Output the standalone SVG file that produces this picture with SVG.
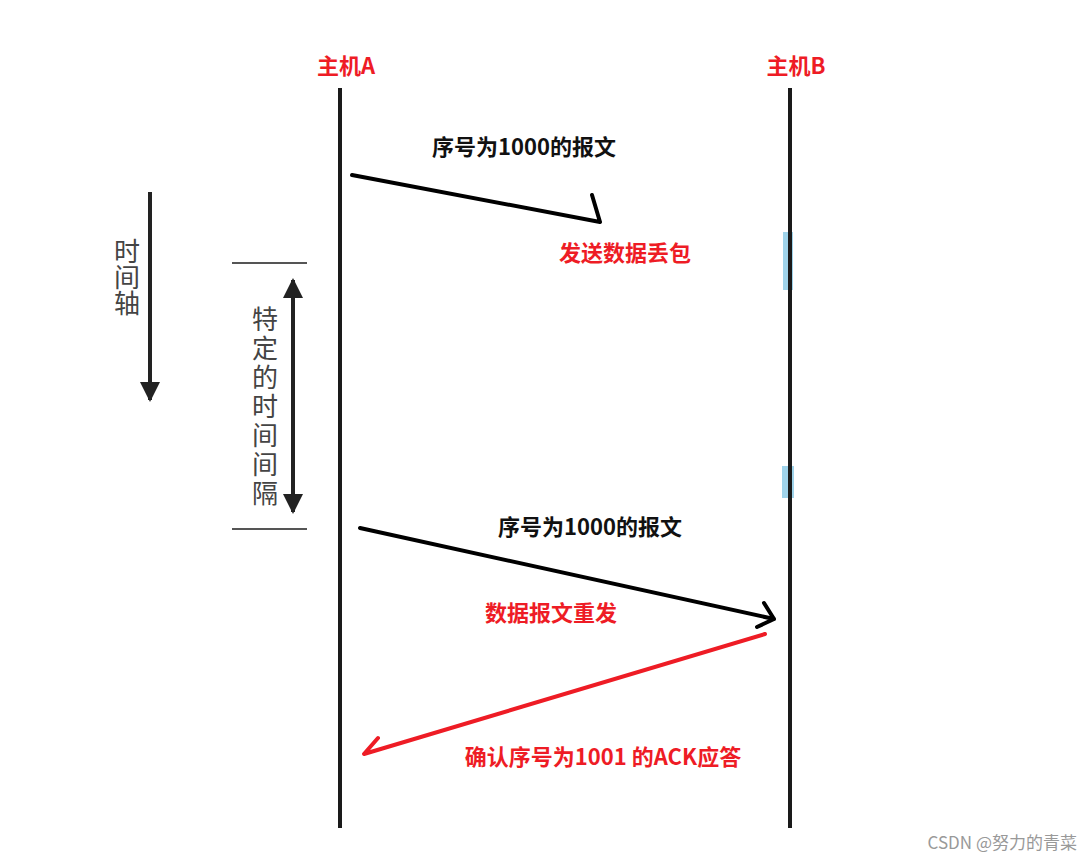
<svg xmlns="http://www.w3.org/2000/svg" width="1092" height="861" viewBox="0 0 1092 861">
<style>
.lbl{font-family:"Noto Sans CJK SC","Noto Sans",sans-serif;font-weight:bold;font-size:22px}
.red{fill:#ee1c25}
.blk{fill:#111}
.gray{font-family:"Noto Sans CJK SC",sans-serif;fill:#444;font-size:26px;writing-mode:vertical-rl}
.arr{fill:none;stroke-width:4;stroke-linecap:round;stroke-linejoin:round}
</style>
<defs>
<marker id="ah" viewBox="0 0 10 10" refX="9" refY="5" markerWidth="5" markerHeight="5" orient="auto-start-reverse"><path d="M0,0 L10,5 L0,10 z" fill="#222"/></marker>
</defs>
<rect width="1092" height="861" fill="#fff"/>
<g id="hostA">
<line x1="340" y1="88" x2="340" y2="828" stroke="#1a1a1a" stroke-width="4"/>
<text x="346" y="74" class="lbl red" text-anchor="middle">主机A</text>
</g>
<g id="hostB">
<rect x="783" y="232" width="10" height="58" fill="#9fd3ea"/>
<rect x="782" y="466" width="12" height="32" fill="#9fd3ea"/>
<line x1="790" y1="88" x2="790" y2="828" stroke="#1a1a1a" stroke-width="4"/>
<text x="796" y="74" class="lbl red" text-anchor="middle">主机B</text>
</g>
<g id="timeaxis">
<line x1="150" y1="192" x2="150" y2="400" stroke="#222" stroke-width="4" marker-end="url(#ah)"/>
<text class="gray" x="127" y="238">时间轴</text>
</g>
<g id="interval">
<line x1="232" y1="263" x2="307" y2="263" stroke="#555" stroke-width="2"/>
<line x1="232" y1="529" x2="307" y2="529" stroke="#555" stroke-width="2"/>
<line x1="293" y1="280" x2="293" y2="512" stroke="#222" stroke-width="4" marker-start="url(#ah)" marker-end="url(#ah)"/>
<text class="gray" x="265" y="306" letter-spacing="3">特定的时间间隔</text>
</g>
<g id="connectors">
<path class="arr" stroke="#000" d="M352,175 L600,222 M592,195 L600,222"/>
<path class="arr" stroke="#000" d="M360,528 L774,619 M764,603 L774,619 L757,627"/>
<path class="arr" stroke="#ee1c25" d="M765,634 L364,754 L378,738"/>
</g>
<g id="labels">
<text x="524" y="155" class="lbl blk" text-anchor="middle">序号为1000的报文</text>
<text x="625" y="261" class="lbl red" text-anchor="middle">发送数据丢包</text>
<text x="590" y="535" class="lbl blk" text-anchor="middle">序号为1000的报文</text>
<text x="551" y="621" class="lbl red" text-anchor="middle">数据报文重发</text>
<text x="603" y="765" class="lbl red" text-anchor="middle">确认序号为1001 的ACK应答</text>
</g>
<text x="1077" y="849" font-family="Noto Sans CJK SC,sans-serif" font-size="17" fill="#999" text-anchor="end">CSDN @努力的青菜</text>
</svg>
